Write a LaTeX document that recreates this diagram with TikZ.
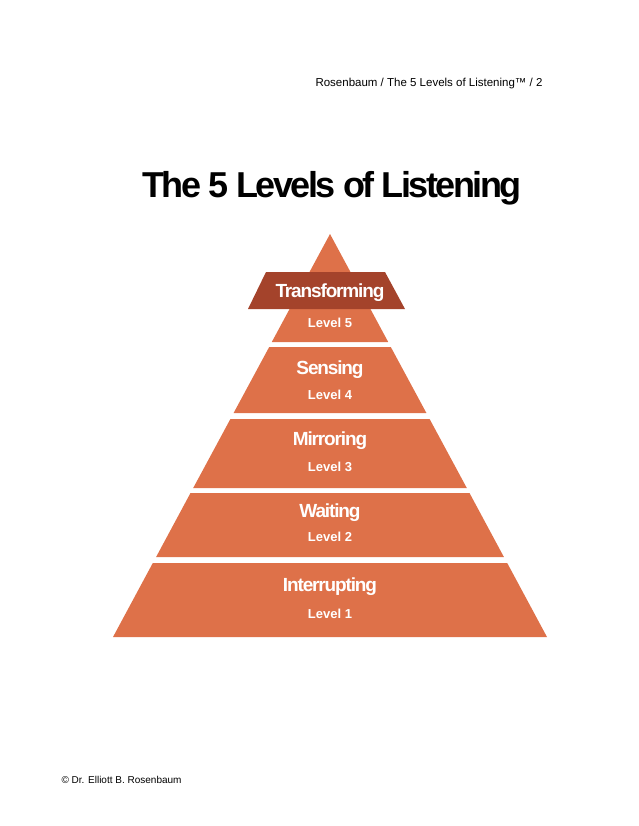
\documentclass[tikz,border=0pt]{standalone}
\usepackage{fontspec}
\setmainfont{Liberation Sans}
\definecolor{bandorange}{HTML}{DE7149}
\definecolor{banddark}{HTML}{A4432B}
\begin{document}
\begin{tikzpicture}[x=1pt,y=-1pt,
    bandname/.style={text=white,font=\fontsize{19}{19}\selectfont\bfseries\addfontfeatures{LetterSpace=-6}},
    lvl/.style={text=white,font=\fontsize{13}{13}\selectfont\bfseries}]
    \useasboundingbox (0,0) rectangle (638,826);

    % pyramid bands
    \fill[bandorange] (330,234) -- (388.2,342) -- (271.8,342) -- cycle;
    \fill[bandorange] (269.2,347) -- (390.8,347) -- (426.4,413) -- (233.6,413) -- cycle;
    \fill[bandorange] (230.4,419) -- (429.6,419) -- (466.8,488) -- (193.2,488) -- cycle;
    \fill[bandorange] (190.5,493) -- (469.5,493) -- (503.9,557) -- (156.1,557) -- cycle;
    \fill[bandorange] (152.8,563) -- (507.2,563) -- (547,637) -- (113,637) -- cycle;
    \fill[banddark] (266,272) -- (385,272) -- (405,309) -- (248,309) -- cycle;

    \node[bandname] (transforming) at (330,293) {Transforming};
    \node[lvl] (lvl5) at (330,323) {Level 5};
    \node[bandname] (sensing) at (330,370) {Sensing};
    \node[lvl] (lvl4) at (330,395) {Level 4};
    \node[bandname] (mirroring) at (330,441) {Mirroring};
    \node[lvl] (lvl3) at (330,467) {Level 3};
    \node[bandname] (waiting) at (330,513) {Waiting};
    \node[lvl] (lvl2) at (330,537) {Level 2};
    \node[bandname] (interrupting) at (330,587) {Interrupting};
    \node[lvl] (lvl1) at (330,614) {Level 1};

    \node[font=\fontsize{36}{36}\selectfont\bfseries\addfontfeatures{LetterSpace=-7}] (title) at (332,188) {The 5 Levels of Listening};
    \node[anchor=east,font=\fontsize{11.5}{12}\selectfont] (header) at (546,84) {Rosenbaum / The 5 Levels of Listening™ / 2};
    \node[anchor=west,font=\fontsize{10}{10}\selectfont] (footer) at (58,780) {© Dr. Elliott B. Rosenbaum};
\end{tikzpicture}
\end{document}
